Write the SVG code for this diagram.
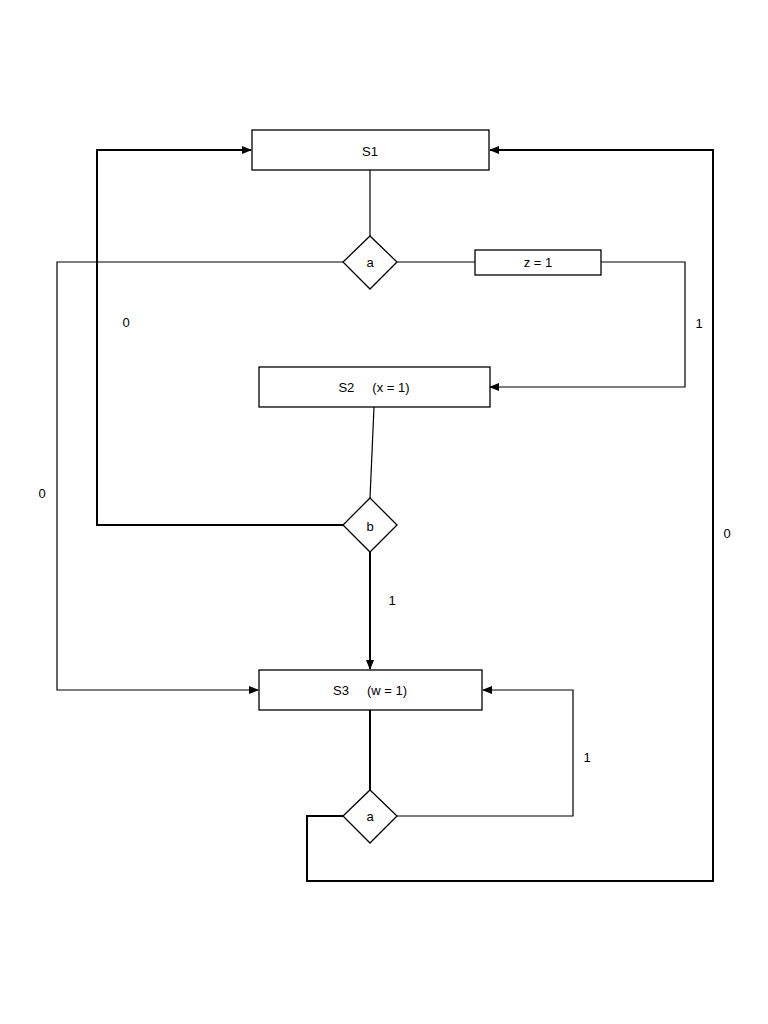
<svg xmlns="http://www.w3.org/2000/svg" width="768" height="1024" viewBox="0 0 768 1024">
<style>
.n{fill:#fff;stroke:#000;stroke-width:1.3}
.t{font-family:"Liberation Sans",Arial,sans-serif;font-size:13px;fill:#000;text-anchor:middle;dominant-baseline:central}
.c{fill:none;stroke:#000;stroke-width:1.2}
.b{fill:none;stroke:#000;stroke-width:2}
</style>
<defs><marker id="ar" viewBox="0 0 10 10" refX="9" refY="5" markerWidth="6" markerHeight="6" orient="auto" markerUnits="userSpaceOnUse"><path d="M0,0 L10,5 L0,10 z" fill="#000" transform="scale(1)"/></marker>
<marker id="a" viewBox="0 0 10 10" refX="9" refY="5" markerWidth="10" markerHeight="10" orient="auto" markerUnits="userSpaceOnUse"><path d="M0,1 L10,5 L0,9 z" fill="#000"/></marker></defs>
<rect width="768" height="1024" fill="#fff"/>
<g id="connectors">
<path class="c" d="M370,170 V236"/>
<path class="c" d="M397,262 H475"/>
<path class="c" d="M601,262 H685 V387 H490" marker-end="url(#a)"/>
<path class="c" d="M343,262 H57 V690 H258" marker-end="url(#a)"/>
<path class="c" d="M374,407 L370,498"/>
<path class="b" d="M343,525 H97 V150 H251" marker-end="url(#a)"/>
<path class="b" d="M370,552 V669" marker-end="url(#a)"/>
<path class="b" d="M370,710 V790"/>
<path class="c" d="M397,816 H573 V690 H483" marker-end="url(#a)"/>
<path class="b" d="M343,816 H307 V881 H713 V150 H490" marker-end="url(#a)"/>
</g>
<g id="S1"><rect class="n" x="252" y="130" width="237" height="40"/><text class="t" x="370" y="151">S1</text></g>
<g id="a1"><path class="n" d="M370,236 L397,262 L370,289 L343,262 Z"/><text class="t" x="370" y="262">a</text></g>
<g id="z"><rect class="n" x="475" y="250" width="126" height="25"/><text class="t" x="538" y="262">z = 1</text></g>
<g id="S2"><rect class="n" x="259" y="367" width="231" height="40"/><text class="t" x="374" y="387" xml:space="preserve">S2     (x = 1)</text></g>
<g id="b"><path class="n" d="M370,498 L397,525 L370,552 L343,525 Z"/><text class="t" x="370" y="526">b</text></g>
<g id="S3"><rect class="n" x="259" y="670" width="223" height="40"/><text class="t" x="370" y="690" xml:space="preserve">S3     (w = 1)</text></g>
<g id="a2"><path class="n" d="M370,790 L397,816 L370,843 L343,816 Z"/><text class="t" x="370" y="816">a</text></g>
<g id="labels">
<text class="t" x="699" y="323">1</text>
<text class="t" x="126" y="322">0</text>
<text class="t" x="42" y="493">0</text>
<text class="t" x="392" y="600">1</text>
<text class="t" x="587" y="757">1</text>
<text class="t" x="727" y="533">0</text>
</g>
</svg>
